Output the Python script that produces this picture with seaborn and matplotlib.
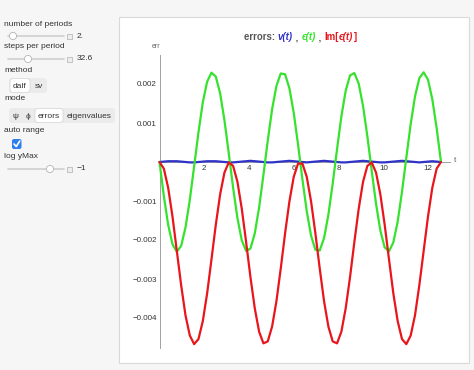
import matplotlib
matplotlib.use("Agg")
import matplotlib.pyplot as plt
from matplotlib.patches import FancyBboxPatch, Rectangle, Circle
import numpy as np
import pandas as pd
import seaborn as sns

# ---- data (errors in units of 1e-3, sampled evenly over t = 0 .. 4*pi) ----
T_START, T_END = 0.0, 12.566
UNIT = 1e-3

v_err = [
    0.00, 0.01, 0.02, 0.02, 0.02, 0.01, 0.00, -0.01, -0.01, 0.00,
    0.01, 0.02, 0.02, 0.02, 0.01, 0.00, -0.01, -0.01, 0.00, 0.01,
    0.02, 0.03, 0.02, 0.01, 0.00, -0.01, -0.01, 0.00, 0.01, 0.02,
    0.03, 0.02, 0.01, 0.00, -0.01, 0.00, 0.01, 0.02, 0.03, 0.02,
    0.01, 0.00, -0.01, -0.01, 0.00, 0.01, 0.02, 0.03, 0.02, 0.01,
    0.00, -0.01, -0.01, 0.00, 0.01, 0.02, 0.03, 0.02, 0.01, 0.00,
    -0.01, 0.00, 0.01, 0.02, 0.01, 0.00,
]
eps_err = [
    0.00, -0.87, -1.61, -2.11, -2.30, -2.15, -1.68, -0.97, -0.11, 0.76,
    1.53, 2.06, 2.29, 2.19, 1.76, 1.07, 0.22, -0.66, -1.44, -2.01,
    -2.28, -2.22, -1.83, -1.17, -0.33, 0.55, 1.35, 1.95, 2.27, 2.25,
    1.89, 1.26, 0.44, -0.44, -1.26, -1.89, -2.25, -2.27, -1.95, -1.35,
    -0.55, 0.33, 1.17, 1.83, 2.22, 2.28, 2.01, 1.44, 0.66, -0.22,
    -1.07, -1.76, -2.19, -2.29, -2.06, -1.53, -0.76, 0.11, 0.97, 1.68,
    2.15, 2.30, 2.11, 1.61, 0.87, 0.00,
]
im_eps_err = [
    0.00, -0.17, -0.66, -1.40, -2.28, -3.16, -3.93, -4.45, -4.67, -4.54,
    -4.08, -3.37, -2.50, -1.61, -0.83, -0.27, -0.01, -0.10, -0.51, -1.20,
    -2.05, -2.95, -3.75, -4.35, -4.65, -4.60, -4.22, -3.57, -2.73, -1.83,
    -1.01, -0.38, -0.04, -0.04, -0.38, -1.01, -1.83, -2.73, -3.57, -4.22,
    -4.60, -4.65, -4.35, -3.75, -2.95, -2.05, -1.20, -0.51, -0.10, -0.01,
    -0.27, -0.83, -1.61, -2.50, -3.37, -4.08, -4.54, -4.67, -4.45, -3.93,
    -3.16, -2.28, -1.40, -0.66, -0.17, 0.00,
]
series_names = ["v", "eps", "im_eps"]
series_colors = {"v": "#2f33c8", "eps": "#36e22e", "im_eps": "#e8161c"}

x_ticks = [2, 4, 6, 8, 10, 12]
y_ticks = [-0.004, -0.003, -0.002, -0.001, 0.001, 0.002]

# control panel texts
labels = ["number of periods", "steps per period", "method", "mode", "auto range", "log yMax"]
slider_values = ["2.", "32.6", "\u22121"]

t = np.linspace(T_START, T_END, len(eps_err))
df = pd.concat([
    pd.DataFrame({"t": t, "err": np.array(vals) * UNIT, "series": name})
    for name, vals in zip(series_names, [v_err, eps_err, im_eps_err])
], ignore_index=True)

# ---- figure ----
sns.set_style("white")
plt.rcParams["font.family"] = ["Liberation Sans", "DejaVu Sans"]
W, H = 474, 370
fig = plt.figure(figsize=(W / 100, H / 100), dpi=100)
fig.patch.set_facecolor("#f6f6f6")

# pixel-space overlay for panels and controls
bg = fig.add_axes([0, 0, 1, 1], zorder=0)
bg.set_xlim(0, W)
bg.set_ylim(H, 0)
bg.axis("off")
bg.add_patch(Rectangle((119, 17), 350, 346, facecolor="white", edgecolor="#d9d9d9", lw=0.8))

txt = dict(fontsize=6, color="#333333", va="center", ha="left")
for lab, y in zip(labels, [24, 47, 71, 99, 130, 157]):
    bg.text(4, y, lab, **txt)

# sliders
for y, kx, val in zip([36, 59, 169], [13, 28, 50], slider_values):
    bg.plot([8, 64], [y, y], color="#cfcfcf", lw=1.2, solid_capstyle="round")
    bg.add_patch(Circle((kx, y), 3.6, facecolor="white", edgecolor="#b5b5b5", lw=0.6, zorder=3))
    bg.add_patch(Rectangle((67.5, y - 2.5), 5, 5, facecolor="#eeeeee", edgecolor="#b0b0b0", lw=0.5))
    bg.text(77, y, val, fontsize=6, color="#333333", va="center", ha="left")

# button groups
bg.add_patch(FancyBboxPatch((9, 78), 38, 15, boxstyle="round,pad=0,rounding_size=3",
                            facecolor="#ebebeb", edgecolor="none"))
bg.add_patch(FancyBboxPatch((10, 78.5), 20, 14, boxstyle="round,pad=0,rounding_size=3",
                            facecolor="white", edgecolor="#d4d4d4", lw=0.5))
bg.text(20, 86, "dalf", fontsize=6, color="#333333", ha="center", va="center")
bg.text(39, 86, "sv", fontsize=6, color="#333333", ha="center", va="center")

bg.add_patch(FancyBboxPatch((9, 108), 106, 15, boxstyle="round,pad=0,rounding_size=3",
                            facecolor="#ebebeb", edgecolor="none"))
bg.add_patch(FancyBboxPatch((35, 108.5), 28, 14, boxstyle="round,pad=0,rounding_size=3",
                            facecolor="white", edgecolor="#d4d4d4", lw=0.5))
for s, x in zip(["\u03c8", "\u03d5", "errors", "eigenvalues"], [15, 28, 49, 89]):
    bg.text(x, 116, s, fontsize=6, color="#333333", ha="center", va="center")

# checkbox
bg.add_patch(FancyBboxPatch((12, 139), 9.5, 10, boxstyle="round,pad=0,rounding_size=2",
                            facecolor="#2d7ff0", edgecolor="none"))
bg.plot([14, 16.2, 19.8], [144, 146.5, 141], color="white", lw=1.2, solid_capstyle="round")

# ---- plot axes (left/right/top/bottom in pixels) ----
L, R, TOP, BOT = 130, 462, 50, 355
ax = fig.add_axes([L / W, 1 - BOT / H, (R - L) / W, (BOT - TOP) / H], zorder=1)
ax.patch.set_alpha(0)
sns.lineplot(data=df, x="t", y="err", hue="series", hue_order=series_names,
             palette=series_colors, sort=False, legend=False, lw=1.6, ax=ax, zorder=3)
ax.set_xlim((L - 159.5) / 22.4, (R - 159.5) / 22.4)
ax.set_ylim((162 - BOT) / 39 * UNIT, (162 - TOP) / 39 * UNIT)

for side in ["top", "right"]:
    ax.spines[side].set_visible(False)
for side in ["left", "bottom"]:
    ax.spines[side].set_position(("data", 0))
    ax.spines[side].set_color("#a0a0a0")
    ax.spines[side].set_linewidth(0.7)
    ax.spines[side].set_zorder(1)
ax.spines["left"].set_bounds(-4.77 * UNIT, 2.74 * UNIT)
ax.spines["bottom"].set_bounds(0, 12.95)

ax.set_xticks(x_ticks)
ax.set_xticklabels([str(v) for v in x_ticks])
ax.set_yticks(y_ticks)
ax.set_yticklabels([f"{v:.3f}".replace("-", "\u2212") for v in y_ticks])
ax.set_xticks(np.arange(0.5, 13, 0.5), minor=True)
ax.set_yticks(np.arange(-4.6, 2.8, 0.2) * UNIT, minor=True)
ax.tick_params(axis="both", which="major", direction="in", length=4, width=0.6,
               color="#a0a0a0", labelsize=5.8, labelcolor="#333333", pad=2)
ax.tick_params(axis="both", which="minor", direction="in", length=2, width=0.5,
               color="#b0b0b0")
ax.set_xlabel("")
ax.set_ylabel("")

bg.text(156, 47, "err", fontsize=5, color="#666666", ha="center", va="center")
bg.text(455, 160, "t", fontsize=6, color="#666666", ha="center", va="center")

# title pieces, placed one after another
title_parts = [("errors: ", "#555555", "normal"), ("v(t)", "#2f33c8", "italic"),
               (" , ", "#555555", "normal"), ("\u03f5(t)", "#36e22e", "italic"),
               (" , ", "#555555", "normal"), ("Im[", "#e8161c", "normal"),
               ("\u03f5(t)", "#e8161c", "italic"), ("]", "#e8161c", "normal")]
renderer = fig.canvas.get_renderer()
x = 244
for s, c, st in title_parts:
    tx = bg.text(x, 37, s, fontsize=6.9, color=c, fontweight="bold", style=st,
                 ha="left", va="center", zorder=5)
    x = tx.get_window_extent(renderer).x1 + 0.3

fig.savefig("out.png", dpi=100)
